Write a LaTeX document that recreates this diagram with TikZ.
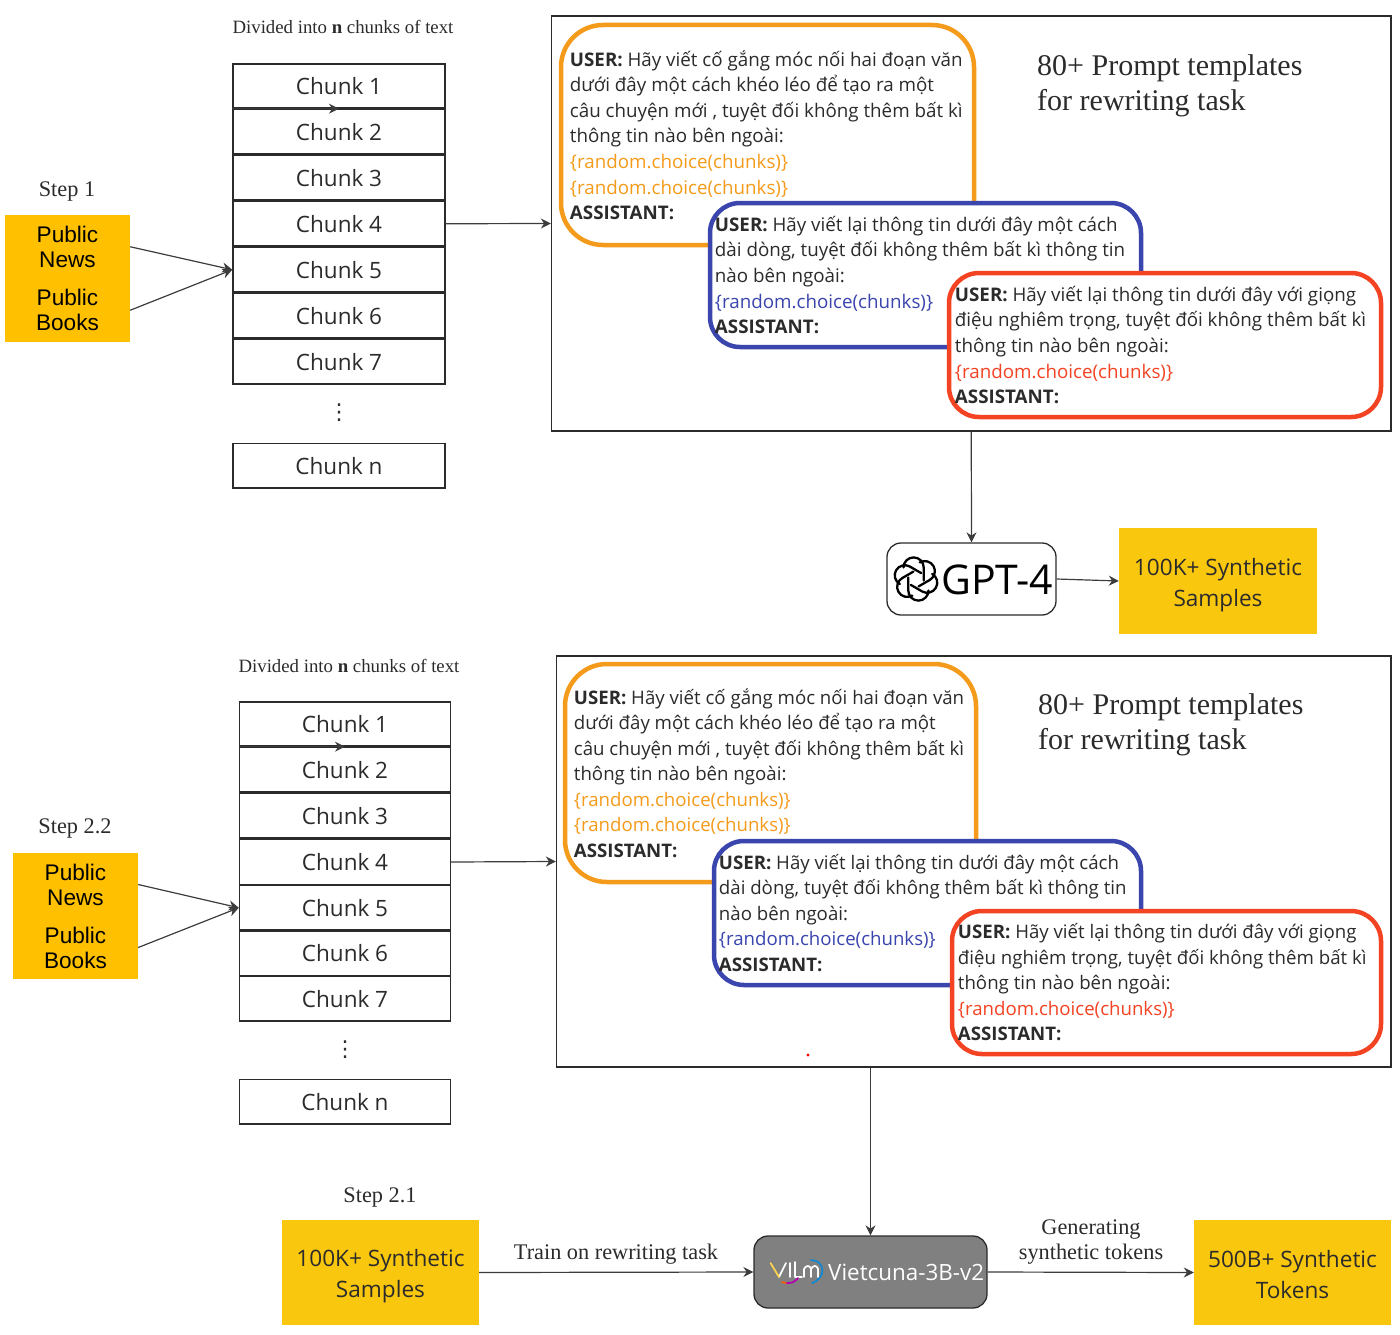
\documentclass[tikz,border=0pt]{standalone}
\usepackage{fontspec}
\setmainfont{Liberation Serif}
\newfontfamily\opensans{Open Sans}
\newfontfamily\arialf{Liberation Sans}
\newfontfamily\dejavu{DejaVu Sans}
\usetikzlibrary{arrows.meta}
\definecolor{ylwA}{HTML}{FFC000}
\definecolor{ylwB}{HTML}{FAC70F}
\definecolor{orgc}{HTML}{F59B1B}
\definecolor{bluc}{HTML}{3A45AE}
\definecolor{redc}{HTML}{F44323}
\definecolor{inkc}{HTML}{2B2B2B}
\definecolor{linec}{HTML}{3C3C3C}
\tikzset{
  arr/.style={draw=linec,line width=1.2pt,-{Stealth[length=10pt,width=10pt]}},
  chunkbox/.style={draw=inkc,line width=1.4pt,fill=white,inner sep=0pt,text=inkc,font=\opensans\fontsize{22.5}{26}\selectfont},
  panel/.style={draw=inkc,line width=1.3pt,fill=white,inner sep=0pt},
  yellowA/.style={fill=ylwA,inner sep=0pt,align=center,text=black,font=\arialf\fontsize{22.6}{25}\selectfont},
  yellowB/.style={fill=ylwB,inner sep=0pt,align=center,text=inkc,font=\opensans\fontsize{22.6}{31}\selectfont},
  promptbox/.style={fill=white,line width=4.5pt,inner sep=0pt},
  prompttext/.style={inner sep=0pt,anchor=west,align=left,text=inkc,font=\opensans\fontsize{18.77}{25.6}\selectfont},
  prompttextb/.style={inner sep=0pt,anchor=west,align=left,text=inkc,font=\opensans\fontsize{18.65}{25.5}\selectfont},
  serifs/.style={inner sep=0pt,text=inkc,font=\fontsize{18.8}{25}\selectfont,align=center},
  serifl/.style={inner sep=0pt,text=inkc,font=\fontsize{22.3}{25}\selectfont,align=center},
  titlel/.style={inner sep=0pt,anchor=west,align=left,text=inkc,font=\fontsize{30}{34.5}\selectfont},
  logoline/.style={line width=1.7pt,draw=white,line cap=round,line join=round},
}
\newcommand{\bx}[7]{% name x1 y1 x2 y2 style text
  \pgfmathsetmacro{\bxw}{#4-#2}\pgfmathsetmacro{\bxh}{#5-#3}
  \pgfmathsetmacro{\bxc}{(#2+#4)/2}\pgfmathsetmacro{\bxd}{(#3+#5)/2}
  \node[#6,minimum width=\bxw pt,minimum height=\bxh pt] (#1) at (\bxc,\bxd) {#7};}
\newcommand{\bo}{\bfseries}
\newcommand{\rc}{\{random.choice(chunks)\}}
\newcommand{\lowr}{\rule{0pt}{25pt}}
\newcommand{\deepr}{\rule[-5pt]{0pt}{5pt}}
\newcommand{\txtO}{{\bo USER:} Hãy viết cố gắng móc nối hai đoạn văn\\dưới đây một cách khéo léo để tạo ra một\\câu chuyện mới , tuyệt đối không thêm bất kì\\thông tin nào bên ngoài:\\\textcolor{orgc}{\rc}\\\textcolor{orgc}{\rc}\\{\bo ASSISTANT:}}
\newcommand{\txtB}{{\bo USER:} Hãy viết lại thông tin dưới đây một cách\\dài dòng, tuyệt đối không thêm bất kì thông tin\\nào bên ngoài:\\\textcolor{bluc}{\rc}\\{\bo ASSISTANT:}}
\newcommand{\txtR}{{\bo USER:} Hãy viết lại thông tin dưới đây với giọng\\điệu nghiêm trọng, tuyệt đối không thêm bất kì\\thông tin nào bên ngoài:\\\textcolor{redc}{\rc}\\{\bo ASSISTANT:}}
\begin{document}
\begin{tikzpicture}[x=1pt,y=-1pt]
\useasboundingbox (0,0) rectangle (1400,1335);
% ---------- top half
\node[serifs] (div1) at (343,27) {Divided into {\bfseries n} chunks of text};
\node[serifl] (step1) at (67,191) {Step 1};
\bx{news1}{5}{215}{130}{278.5}{yellowA}{Public\\News}
\bx{books1}{5}{278.5}{130}{342}{yellowA}{Public\\Books}
\bx{ca1}{233}{64}{445}{108}{chunkbox}{Chunk 1}
\bx{ca2}{233}{109.5}{445}{154}{chunkbox}{Chunk 2}
\bx{ca3}{233}{155.5}{445}{200}{chunkbox}{Chunk 3}
\bx{ca4}{233}{201.5}{445}{246}{chunkbox}{Chunk 4}
\bx{ca5}{233}{247.5}{445}{292}{chunkbox}{Chunk 5}
\bx{ca6}{233}{293.5}{445}{338}{chunkbox}{Chunk 6}
\bx{ca7}{233}{339.5}{445}{384}{chunkbox}{Chunk 7}
\node[inner sep=0pt,text=inkc,font=\dejavu\fontsize{22}{24}\selectfont] (dotsa) at (339,413) {⋮};
\bx{can}{233}{443.5}{445}{488}{chunkbox}{Chunk n}
\bx{pa}{551.5}{16}{1391}{431}{panel}{}
\bx{oa}{561}{25}{974}{245}{promptbox,draw=orgc,rounded corners=42pt}{}
\node[prompttext] (oat) at ([xshift=11pt]oa.west) {\txtO};
\bx{ba}{710}{203}{1141}{347}{promptbox,draw=bluc,rounded corners=30pt}{}
\node[prompttext] (bat) at ([xshift=7pt]ba.west) {\txtB};
\bx{ra}{949}{273}{1381}{417}{promptbox,draw=redc,rounded corners=30pt}{}
\node[prompttext] (rat) at ([xshift=8pt]ra.west) {\txtR};
\node[titlel] (ta) at (1037,86) {80+ Prompt templates\\for rewriting task};
\bx{gpt}{887}{543}{1056}{615}{draw=inkc,line width=1.3pt,rounded corners=14pt,fill=white,inner sep=0pt}{}
\node[inner sep=0pt,anchor=west,text=black,font=\opensans\fontsize{41}{44}\selectfont] (gptl) at (941,580) {GPT-4};
\begin{scope}[shift={(916,579)},line width=2.3pt,line cap=round]
  \foreach \a in {0,60,...,300}{
    \draw[rotate=\a,draw=black] (-7.7,-1.5) -- (-7.7,11.5) .. controls (-7.7,17.08) and (-3.18,21.6) .. (2.4,21.6) .. controls (7.98,21.6) and (12.5,17.08) .. (12.5,11.5);
  }
\end{scope}
\bx{syna}{1119}{528}{1317}{634}{yellowB}{\lowr 100K+ Synthetic\\Samples}
\draw[arr] (news1.east) -- (ca5.west);
\draw[arr] (books1.east) -- (ca5.west);
\draw[arr] (ca1.south west) -- (ca1.south);
\draw[arr] (ca4.east) -- (pa.west);
\draw[arr] (pa.south) -- (gpt.north);
\draw[arr] (gpt.east) -- (syna.west);
% ---------- bottom half
\node[serifs] (div2) at (349,666) {Divided into {\bfseries n} chunks of text};
\node[serifl] (step2) at (75,828) {Step 2.2};
\bx{news2}{13}{853}{138}{916}{yellowA}{Public\\News}
\bx{books2}{13}{916}{138}{979}{yellowA}{Public\\Books}
\bx{cb1}{239.5}{702}{450.5}{746}{chunkbox}{Chunk 1}
\bx{cb2}{239.5}{747.5}{450.5}{792}{chunkbox}{Chunk 2}
\bx{cb3}{239.5}{793.5}{450.5}{838}{chunkbox}{Chunk 3}
\bx{cb4}{239.5}{839.5}{450.5}{884.5}{chunkbox}{Chunk 4}
\bx{cb5}{239.5}{885.5}{450.5}{930}{chunkbox}{Chunk 5}
\bx{cb6}{239.5}{931}{450.5}{975.5}{chunkbox}{Chunk 6}
\bx{cb7}{239.5}{976.5}{450.5}{1021}{chunkbox}{Chunk 7}
\node[inner sep=0pt,text=inkc,font=\dejavu\fontsize{22}{24}\selectfont] (dotsb) at (345,1050) {⋮};
\bx{cbn}{239.5}{1079.5}{450.5}{1124}{chunkbox}{Chunk n}
\bx{pb}{556.5}{656}{1391}{1067}{panel}{}
\bx{ob}{565}{664}{976}{882}{promptbox,draw=orgc,rounded corners=42pt}{}
\node[prompttextb] (obt) at ([xshift=11pt]ob.west) {\txtO};
\bx{bb}{714}{841}{1141}{985}{promptbox,draw=bluc,rounded corners=30pt}{}
\node[prompttextb] (bbt) at ([xshift=7pt]bb.west) {\txtB};
\bx{rb}{952}{911}{1381}{1054}{promptbox,draw=redc,rounded corners=30pt}{}
\node[prompttextb] (rbt) at ([xshift=8pt]rb.west) {\txtR};
\node[titlel] (tb) at (1038,725) {80+ Prompt templates\\for rewriting task};
\fill[red] (808,1055) circle (1.6pt);
\node[serifl] (step21) at (380,1197) {Step 2.1};
\bx{synb}{282}{1220}{479}{1325}{yellowB}{\lowr 100K+ Synthetic\\Samples}
\bx{vc}{754}{1236}{987}{1308}{draw=inkc,line width=1.3pt,rounded corners=14pt,fill=black!50,inner sep=0pt}{}
\node[inner sep=0pt,anchor=west,text=white,font=\opensans\fontsize{22.4}{26}\selectfont] (vcl) at (828,1272) {Vietcuna-3B-v2};
\draw[logoline] (779,1277) -- (786,1263);
\draw[logoline,draw=ylwA!70!white] (770.5,1263) -- (779,1277);
\draw[logoline] (790,1263) -- (790,1277);
\draw[logoline] (795,1262) -- (795,1277) -- (802,1277);
\draw[logoline] (804,1277) -- (804,1269) .. controls (806,1265) and (810,1265) .. (811,1269) -- (811,1277);
\draw[logoline] (811,1269) .. controls (813,1265) and (817,1265) .. (818,1269) -- (818,1277);
\draw[logoline,draw=cyan!70!blue] (811,1260) .. controls (825,1260) and (827,1278) .. (812,1283);
\draw[logoline,draw=violet!60!magenta] (786,1283) .. controls (791,1283.5) and (795,1282) .. (798,1278);
\draw[logoline,draw=orange!70!red] (782,1282) -- (786,1283);
\bx{tok}{1194}{1220}{1391}{1325}{yellowB}{\lowr 500B+ Synthetic\\Tokens\deepr}
\node[serifl] (train) at (616,1254) {Train on rewriting task};
\node[serifl] (gen) at (1091,1242) {Generating\\synthetic tokens};
\draw[arr] (news2.east) -- (cb5.west);
\draw[arr] (books2.east) -- (cb5.west);
\draw[arr] (cb1.south west) -- (cb1.south);
\draw[arr] (cb4.east) -- (pb.west);
\draw[arr] (pb.south -| vc.north) -- (vc.north);
\draw[arr] (synb.east) -- (vc.west);
\draw[arr] (vc.east) -- (tok.west);
\end{tikzpicture}
\end{document}
